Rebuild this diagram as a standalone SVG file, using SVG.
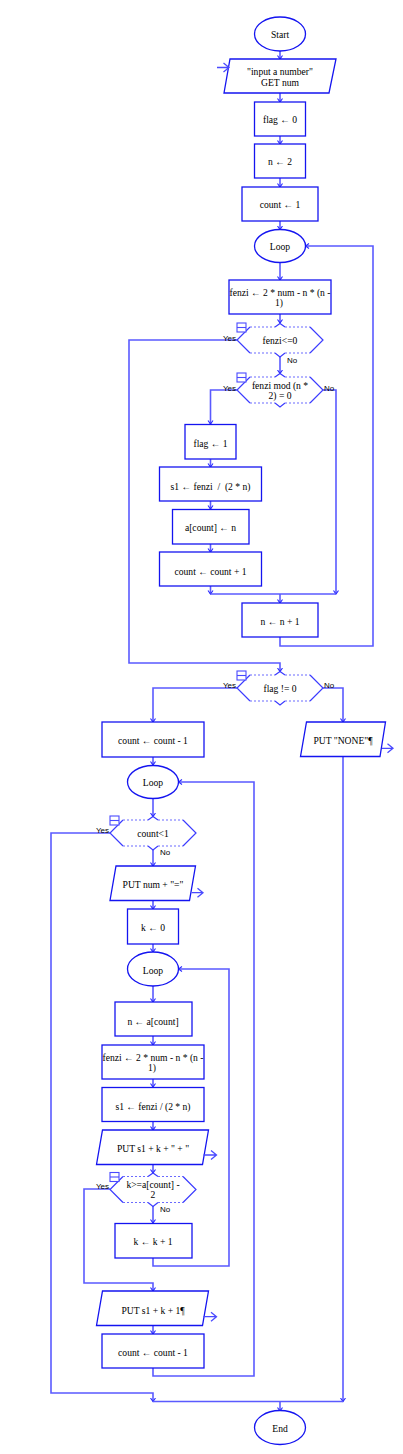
<svg xmlns="http://www.w3.org/2000/svg" width="403" height="1454" viewBox="0 0 403 1454">
<style>
.n{fill:#fff;stroke:#1414f0;stroke-width:1.3}
.t{font-family:"Liberation Serif","Times New Roman",serif;font-size:9.6px;fill:#000;text-anchor:middle;dominant-baseline:central}
.l{font-family:"Liberation Sans",Arial,sans-serif;font-size:8px;fill:#000}
.c{fill:none;stroke:#5a5aff;stroke-width:1.6}
.s{fill:none;stroke:#3c3cff;stroke-width:1.2}
.d{fill:none;stroke:#6a6aff;stroke-width:1.2;stroke-dasharray:2 2}
.io{fill:none;stroke:#4a4aff;stroke-width:1.3}
</style>
<defs>
<marker id="a" markerUnits="userSpaceOnUse" markerWidth="8" markerHeight="8" refX="4" refY="4" orient="auto">
<path d="M0.5,1.5 L4,4 L0.5,6.5" fill="none" stroke="#2a2aff" stroke-width="1.1"/>
</marker>
<g id="dec">
<path class="s" d="M-30,-13 L-43,0 L-30,13 M30,-13 L43,0 L30,13 M-5,-13 L0,-16.5 L5,-13 M-5,13 L0,17 L5,13"/>
<path class="d" d="M-30,-13 H-5 M5,-13 H30 M-30,13 H-5 M5,13 H30"/>
<rect x="-43" y="-17" width="9" height="9" fill="#fff" stroke="#4a4aff" stroke-width="1.1"/>
<path d="M-43,-12.5 H-34" stroke="#4a4aff" stroke-width="1.1"/>
</g>
</defs>

<g id="connectors">
<path class="c" marker-end="url(#a)" d="M280,51 V59"/>
<path class="c" marker-end="url(#a)" d="M280,93 V102"/>
<path class="c" marker-end="url(#a)" d="M280,136 V144"/>
<path class="c" marker-end="url(#a)" d="M280,178 V187"/>
<path class="c" marker-end="url(#a)" d="M280,221 V229.5"/>
<path class="c" marker-end="url(#a)" d="M280,262.5 V280"/>
<path class="c" marker-end="url(#a)" d="M280,314 V323"/>
<path class="c" marker-end="url(#a)" d="M280,357 V373.5"/>
<path class="c" marker-end="url(#a)" d="M237,340 H129 V663 H280 V671.5"/>
<path class="c" marker-end="url(#a)" d="M237,390 H210.5 V424"/>
<path class="c" marker-end="url(#a)" d="M323,390 H336 V594"/>
<path class="c" marker-end="url(#a)" d="M210.5,459 V467"/>
<path class="c" marker-end="url(#a)" d="M210.5,501 V509"/>
<path class="c" marker-end="url(#a)" d="M210.5,544 V552"/>
<path class="c" marker-end="url(#a)" d="M210.5,586 V594"/>
<path class="c" d="M210.5,594 H336"/>
<path class="c" marker-end="url(#a)" d="M280,594 V603"/>
<path class="c" marker-end="url(#a)" d="M280,637 V646 H373 V246 H305.5"/>
<path class="c" marker-end="url(#a)" d="M237,688 H153 V722"/>
<path class="c" marker-end="url(#a)" d="M323,688 H343 V722"/>
<path class="c" marker-end="url(#a)" d="M153,757 V765"/>
<path class="c" marker-end="url(#a)" d="M153,798.5 V816.5"/>
<path class="c" marker-end="url(#a)" d="M153,850 V866"/>
<path class="c" marker-end="url(#a)" d="M153,901 V909"/>
<path class="c" marker-end="url(#a)" d="M153,944 V952"/>
<path class="c" marker-end="url(#a)" d="M153,986 V1002"/>
<path class="c" marker-end="url(#a)" d="M153,1036 V1045"/>
<path class="c" marker-end="url(#a)" d="M153,1079 V1087"/>
<path class="c" marker-end="url(#a)" d="M153,1122 V1130"/>
<path class="c" marker-end="url(#a)" d="M153,1164 V1173"/>
<path class="c" marker-end="url(#a)" d="M153,1206 V1223"/>
<path class="c" marker-end="url(#a)" d="M153,1258 V1266 H229 V969 H178.5"/>
<path class="c" marker-end="url(#a)" d="M110,1189 H84 V1283 H153 V1291"/>
<path class="c" marker-end="url(#a)" d="M153,1326 V1334"/>
<path class="c" marker-end="url(#a)" d="M153,1368 V1376 H254 V782 H178.5"/>
<path class="c" marker-end="url(#a)" d="M110,833 H51 V1393 H153 V1401.5"/>
<path class="c" marker-end="url(#a)" d="M343,757 V1401.5"/>
<path class="c" d="M153,1401.5 H343"/>
<path class="c" marker-end="url(#a)" d="M280,1401.5 V1411"/>
</g>

<g id="start"><ellipse class="n" cx="280" cy="34" rx="25.5" ry="17"/><text class="t" x="280" y="34">Start</text></g>
<g id="input"><polygon class="n" points="230,59 336,59 329,93 224,93"/><path class="io" d="M217,67.5 H229 M223.5,63 L229,67.5 L223.5,72"/><text class="t" x="280" y="71">"input a number"</text><text class="t" x="280" y="82">GET num</text></g>
<g id="flag0"><rect class="n" x="254.5" y="102" width="51" height="34"/><text class="t" x="280" y="119">flag ← 0</text></g>
<g id="n2"><rect class="n" x="254.5" y="144" width="51" height="34"/><text class="t" x="280" y="161">n ← 2</text></g>
<g id="count1"><rect class="n" x="242" y="187" width="76" height="34"/><text class="t" x="280" y="204">count ← 1</text></g>
<g id="loop1"><ellipse class="n" cx="280" cy="246" rx="25.5" ry="16.5"/><text class="t" x="280" y="246">Loop</text></g>
<g id="fenzi1"><rect class="n" x="229" y="280" width="102" height="34"/><text class="t" x="280" y="292">fenzi ← 2 * num - n * (n -</text><text class="t" x="279" y="302">1)</text></g>
<g id="dec1"><use href="#dec" x="280" y="340"/><text class="t" x="280" y="340">fenzi&lt;=0</text><text class="l" x="236" y="341" text-anchor="end">Yes</text><text class="l" x="287" y="363">No</text></g>
<g id="dec2"><use href="#dec" x="280" y="390"/><text class="t" x="280" y="385">fenzi mod (n *</text><text class="t" x="280" y="395.5">2) = 0</text><text class="l" x="236" y="391" text-anchor="end">Yes</text><text class="l" x="324" y="391">No</text></g>
<g id="flag1"><rect class="n" x="185" y="424.5" width="51" height="34.5"/><text class="t" x="210.5" y="443">flag ← 1</text></g>
<g id="s1a"><rect class="n" x="159.5" y="467" width="102" height="34"/><text class="t" x="210.5" y="486" xml:space="preserve">s1 ← fenzi  /  (2 * n)</text></g>
<g id="acount"><rect class="n" x="172.5" y="509.5" width="76.5" height="34.5"/><text class="t" x="210.5" y="527.5">a[count] ← n</text></g>
<g id="countinc"><rect class="n" x="159.5" y="552" width="102" height="34"/><text class="t" x="210.5" y="571">count ← count + 1</text></g>
<g id="ninc"><rect class="n" x="242" y="603" width="76" height="34"/><text class="t" x="280" y="621.5">n ← n + 1</text></g>
<g id="dec3"><use href="#dec" x="280" y="688"/><text class="t" x="280" y="688">flag != 0</text><text class="l" x="236" y="688" text-anchor="end">Yes</text><text class="l" x="324" y="688">No</text></g>
<g id="countdec1"><rect class="n" x="102" y="722" width="102" height="35"/><text class="t" x="153" y="740.5">count ← count - 1</text></g>
<g id="none"><polygon class="n" points="306.5,722 385.5,722 380,756.5 300.5,756.5"/><path class="io" d="M382,748.3 H393 M387.5,743.8 L393,748.3 L387.5,752.8"/><text class="t" x="343" y="740">PUT "NONE"¶</text></g>
<g id="loop2"><ellipse class="n" cx="153" cy="782" rx="25.5" ry="16.5"/><text class="t" x="153" y="782">Loop</text></g>
<g id="dec4"><use href="#dec" x="153" y="833"/><text class="t" x="153" y="833">count&lt;1</text><text class="l" x="109" y="833" text-anchor="end">Yes</text><text class="l" x="160" y="855">No</text></g>
<g id="putnum"><polygon class="n" points="116,866 195.5,866 189.5,900.5 110,900.5"/><path class="io" d="M191.5,892.7 H203 M197.5,888.2 L203,892.7 L197.5,897.2"/><text class="t" x="153" y="884">PUT num + "="</text></g>
<g id="k0"><rect class="n" x="127.5" y="909" width="51" height="35"/><text class="t" x="153" y="927.5">k ← 0</text></g>
<g id="loop3"><ellipse class="n" cx="153" cy="969" rx="25.5" ry="17"/><text class="t" x="153" y="970">Loop</text></g>
<g id="na"><rect class="n" x="115" y="1002" width="77" height="34"/><text class="t" x="153" y="1021">n ← a[count]</text></g>
<g id="fenzi2"><rect class="n" x="102" y="1045" width="102" height="34"/><text class="t" x="153" y="1057">fenzi ← 2 * num - n * (n -</text><text class="t" x="152" y="1067.5">1)</text></g>
<g id="s1b"><rect class="n" x="102" y="1087.5" width="102" height="34"/><text class="t" x="153" y="1106">s1 ← fenzi / (2 * n)</text></g>
<g id="puts1"><polygon class="n" points="102.5,1130 208.5,1130 202.5,1164.5 96.5,1164.5"/><path class="io" d="M203.5,1155 H216.5 M211,1150.5 L216.5,1155 L211,1159.5"/><text class="t" x="153" y="1148" xml:space="preserve">PUT s1 + k + " + "</text></g>
<g id="dec5"><use href="#dec" x="153" y="1189.5"/><text class="t" x="153" y="1184">k&gt;=a[count] -</text><text class="t" x="153" y="1194">2</text><text class="l" x="109" y="1189" text-anchor="end">Yes</text><text class="l" x="160" y="1212">No</text></g>
<g id="kinc"><rect class="n" x="115" y="1223.5" width="77" height="34.5"/><text class="t" x="153" y="1241.5">k ← k + 1</text></g>
<g id="puts2"><polygon class="n" points="102.5,1291 208.5,1291 202.5,1325.5 96.5,1325.5"/><path class="io" d="M203.5,1316.7 H216.5 M211,1312.2 L216.5,1316.7 L211,1321.2"/><text class="t" x="153" y="1310">PUT s1 + k + 1¶</text></g>
<g id="countdec2"><rect class="n" x="102" y="1334" width="102" height="34"/><text class="t" x="153" y="1352">count ← count - 1</text></g>
<g id="end"><ellipse class="n" cx="280" cy="1427.5" rx="25.5" ry="17"/><text class="t" x="280" y="1428">End</text></g>
</svg>
